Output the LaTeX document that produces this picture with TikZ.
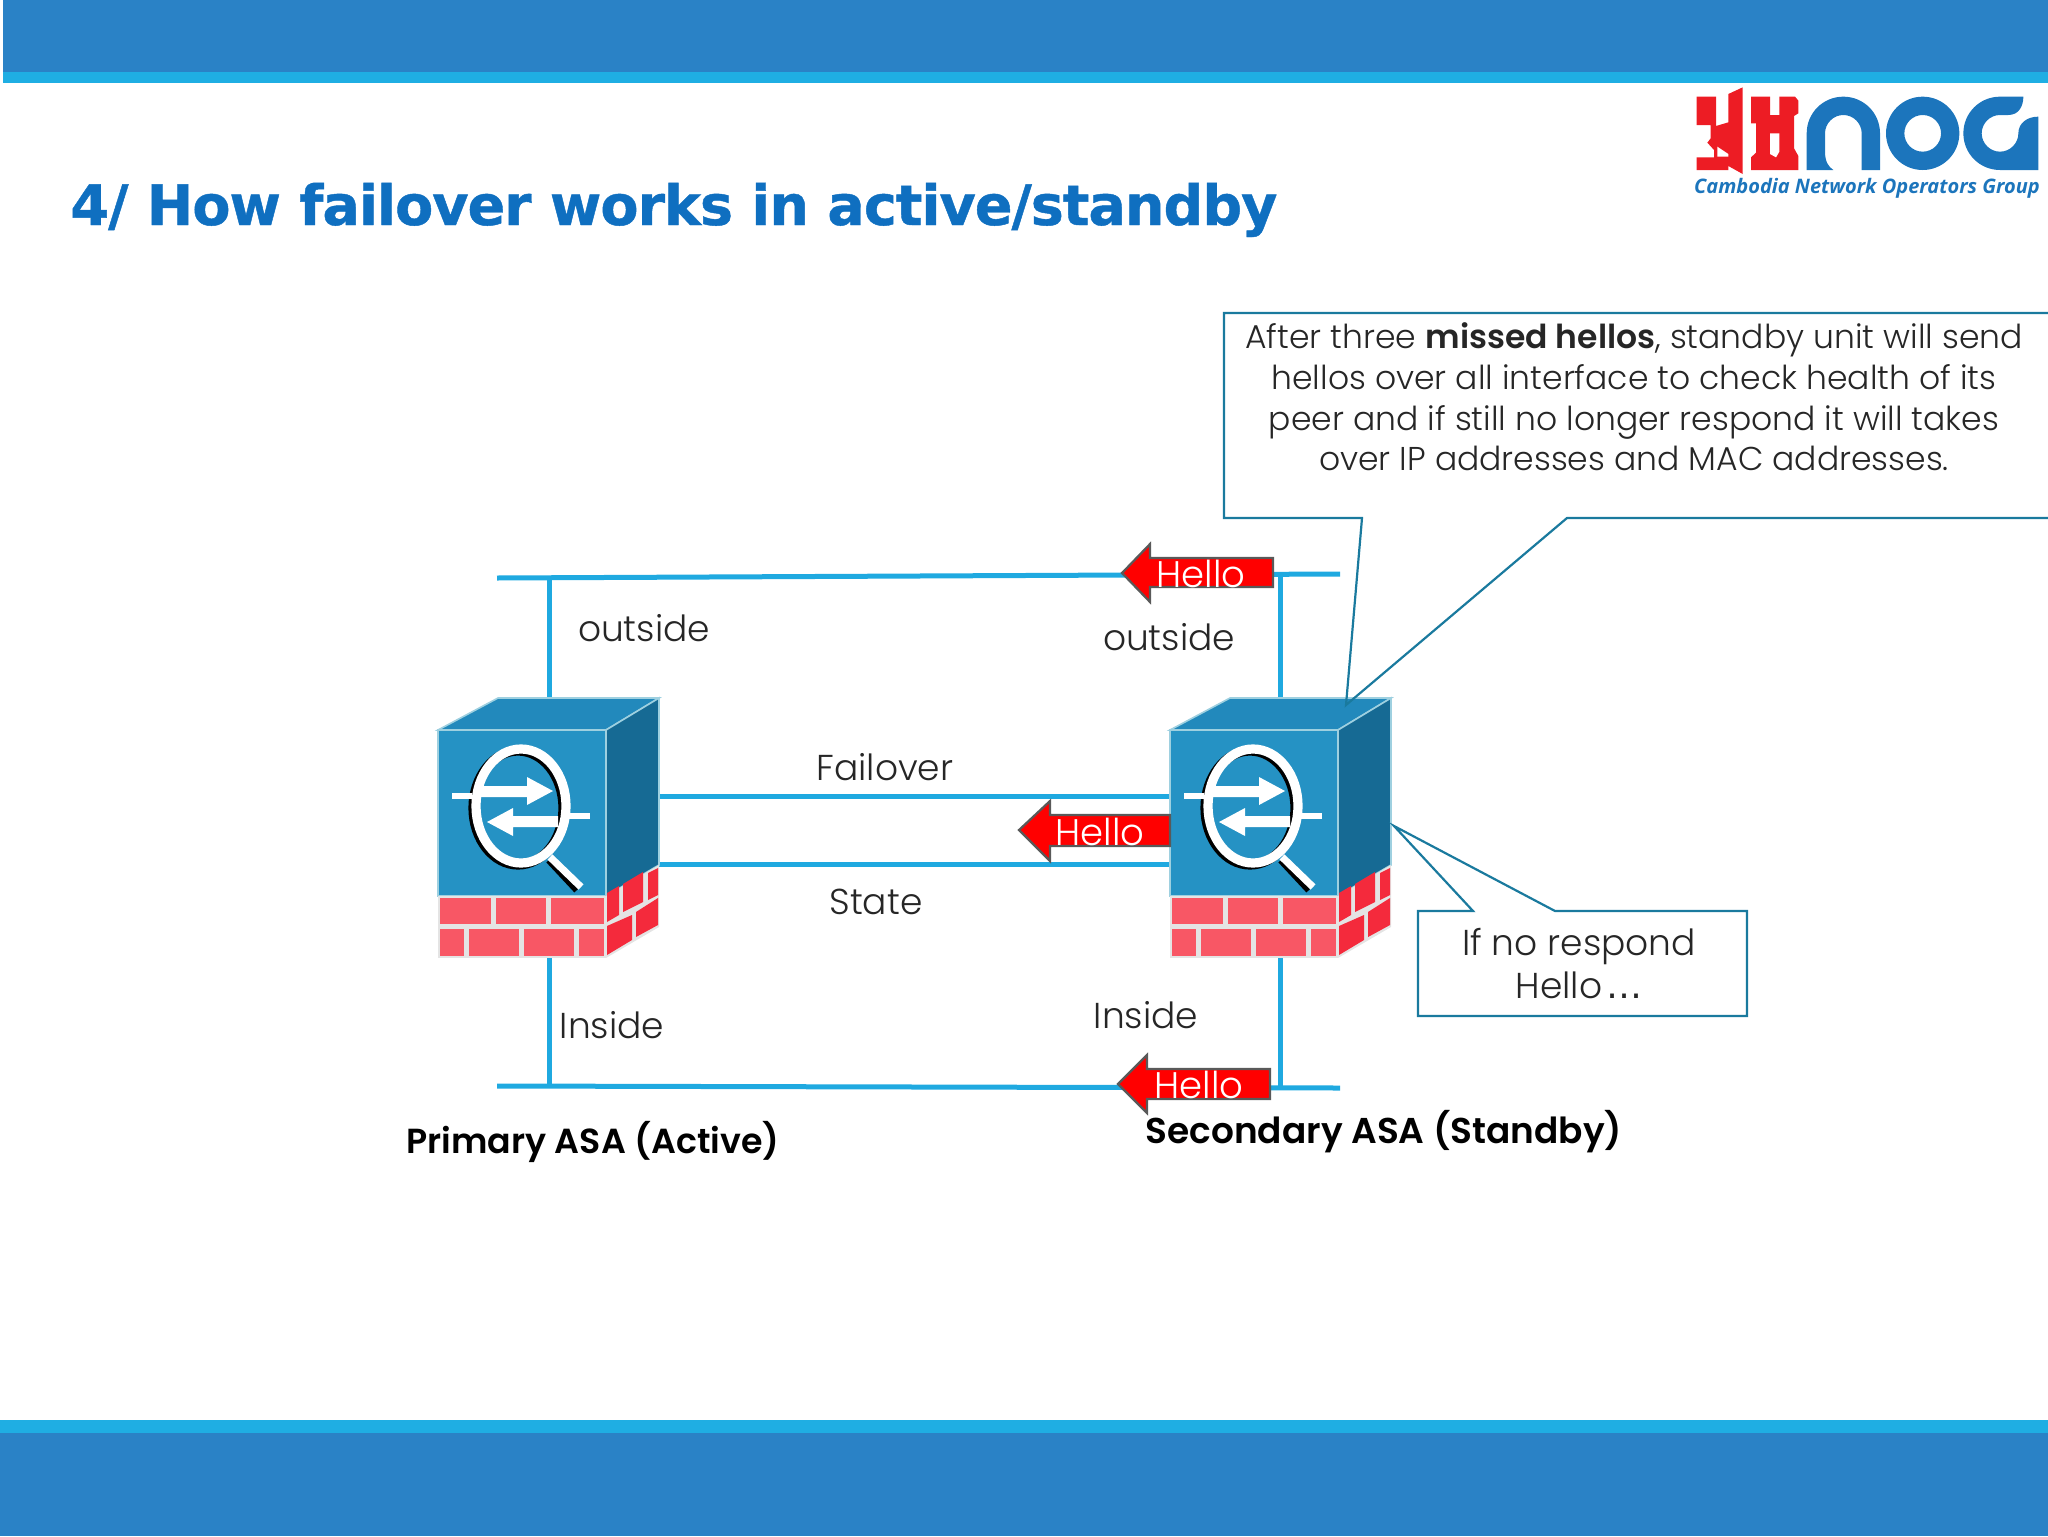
\documentclass[tikz,border=0pt]{standalone}
\usepackage{fontspec}
\setmainfont{Poppins}[UprightFont=* Light,BoldFont=* SemiBold]
\newfontfamily\titlefont{DejaVu Sans}[BoldFont=* Bold,BoldFeatures={FakeBold=0.8,LetterSpace=-1.8}]
\newfontfamily\logofont{Open Sans}
\usetikzlibrary{backgrounds}
\definecolor{bardark}{HTML}{2A82C6}
\definecolor{barlight}{HTML}{1FAEE3}
\definecolor{titleblue}{HTML}{0F6FC0}
\definecolor{netblue}{HTML}{1FA9E0}
\definecolor{calloutline}{HTML}{1A7A9E}
\definecolor{facefront}{HTML}{2592C4}
\definecolor{facetop}{HTML}{2289BC}
\definecolor{faceside}{HTML}{166A94}
\definecolor{faceedge}{HTML}{9ED0E0}
\definecolor{brickfront}{HTML}{F85765}
\definecolor{brickside}{HTML}{F42A3C}
\definecolor{mortar}{HTML}{E4E4E4}
\definecolor{logored}{HTML}{ED1C24}
\definecolor{logoblue}{HTML}{1C75BC}
\tikzset{
 netline/.style={draw=netblue,line width=2.5pt},
 callout/.style={draw=calloutline,line width=1.1pt,line join=miter},
 lbl/.style={inner sep=0pt,font=\fontsize{18}{22}\selectfont,text=black!85},
 boldlbl/.style={inner sep=0pt,font=\fontsize{17.4}{22}\selectfont\bfseries,text=black},
 hellotxt/.style={inner sep=0pt,text=white,font=\fontsize{18.5}{22}\selectfont},
 helloshape/.style={fill=red,draw=black!65,line width=1.1pt,line join=miter},
 asa/.pic={
  \begin{scope}[shift={(-438,-730)}]
  \node[inner sep=0pt,minimum width=110.5pt,minimum height=130pt] (body) at (548.5,828) {};
  \fill[facetop,draw=faceedge,line width=.8pt] (438,730)--(498,698)--(659,698)--(606,730)--cycle;
  \fill[faceside,draw=faceedge,line width=.8pt] (606,730)--(659,698)--(659,865)--(606,896)--cycle;
  \fill[facefront,draw=faceedge,line width=.8pt] (438,730) rectangle (606,896);
  \fill[mortar] (438,896) rectangle (606,958);
  \fill[mortar] (606,896)--(659,865)--(659,927)--(606,958)--cycle;
  \foreach \a/\b in {440/491,496/546,551/604}{\fill[brickfront] (\a,898) rectangle (\b,924);}
  \foreach \a/\b in {440/464,469/519,524/574,579/604}{\fill[brickfront] (\a,929) rectangle (\b,956);}
  \fill[brickside] (607,893)--(619,886)--(619,915)--(607,922)--cycle;
  \fill[brickside] (623,884)--(643,872)--(643,902)--(623,912)--cycle;
  \fill[brickside] (648,873)--(658,868)--(658,895)--(648,900)--cycle;
  \fill[brickside] (607,926)--(632,915)--(632,940)--(607,955)--cycle;
  \fill[brickside] (636,912)--(658,898)--(658,925)--(636,937)--cycle;
  % magnifier
  \draw[black,line width=4.6pt] (518,808) ellipse [x radius=45,y radius=57];
  \draw[black,line width=3.6pt] (549,860)--(577,890);
  \fill[white] (452,793) rectangle (472,799);
  \fill[white] (568,813) rectangle (590,819);
  \draw[white,line width=4.6pt] (521,806) ellipse [x radius=45,y radius=57];
  \draw[white,line width=3.6pt] (550,857)--(581,887);
  \fill[white] (480,786)--(527,786)--(527,777)--(553,791)--(527,805)--(527,797)--(480,797)--cycle;
  \fill[white] (558,816)--(513,816)--(513,808)--(487,822)--(513,836)--(513,827)--(558,827)--cycle;
  \end{scope}
 }
}
\begin{document}
\begin{tikzpicture}[x=0.5pt,y=-0.5pt]
\useasboundingbox (0,0) rectangle (2048,1536);
% bars
\fill[bardark] (3,0) rectangle (2048,72);
\fill[barlight] (3,72) rectangle (2048,83);
\fill[barlight] (0,1420) rectangle (2048,1433);
\fill[bardark] (0,1433) rectangle (2048,1536);
% title
\node[anchor=base west,inner sep=0pt,text=titleblue,font=\titlefont\bfseries\fontsize{27.8}{32}\selectfont] (title) at (70,225) {4/ How failover works in active/standby};
% logo: KH
\begin{scope}[shift={(1690,80)},x=0.16667pt,y=-0.16667pt]
 \fill[logored] (20,50)--(78,50)--(78,138)--(115,127)--(115,42)--(158,22)--(158,282)--(115,258)--(115,270)--(20,270)--(20,232)--(72,232)--(72,210)--(52,188)--(62,175)--(62,135)--(20,135)--cycle;
 \fill[white] (82,200)--(115,222)--(115,230)--(82,230)--cycle;
 \fill[logored] (183,50)--(240,50)--(240,105)--(268,105)--(268,50)--(315,50)--(325,62)--(325,100)--(312,108)--(312,205)--(325,228)--(325,270)--(183,270)--(183,232)--(198,218)--(198,130)--(183,130)--cycle;
 \fill[white] (240,160)--(268,160)--(268,215)--(258,232)--(240,222)--cycle;
\end{scope}
% logo: noG
\begin{scope}[shift={(1800,85)},x=0.16667pt,y=-0.16667pt]
 \fill[logoblue] (20,255)--(20,145) .. controls (20,84) and (69,35) .. (130,35) .. controls (191,35) and (240,84) .. (240,145)--(240,255)--(185,255)--(185,145) .. controls (185,115) and (160,90) .. (130,90) .. controls (100,90) and (75,115) .. (75,145)--(75,200) .. controls (75,230) and (85,245) .. (100,255)--cycle;
 \fill[logoblue,even odd rule] (368,145) circle [radius=110] (368,145) circle [radius=55];
 \fill[logoblue] (670,35)--(600,35) .. controls (539,35) and (490,84) .. (490,145) .. controls (490,206) and (539,255) .. (600,255)--(715,255)--(715,95) .. controls (680,95) and (655,115) .. (655,145) .. controls (655,175) and (630,200) .. (600,200) .. controls (570,200) and (545,175) .. (545,145) .. controls (545,115) and (570,90) .. (600,90)--(625,90) .. controls (655,90) and (670,65) .. (670,35)--cycle;
\end{scope}
\node[anchor=base,inner sep=0pt,text=logoblue,font=\logofont\bfseries\itshape\fontsize{10}{12}\selectfont] (logotext) at (1867,193) {Cambodia Network Operators Group};
% devices
\path (438,730) pic (asaA) {asa};
\path (1170,730) pic (asaB) {asa};
% connectors
\coordinate (topL) at (497,578);
\coordinate (topR) at (1340,574);
\coordinate (botL) at (497,1086);
\coordinate (botR) at (1340,1088);
\coordinate (dropTA) at (549,577);
\coordinate (dropTB) at (1280,574);
\coordinate (dropBA) at (549,1086);
\coordinate (dropBB) at (1280,1087);
\begin{scope}[on background layer]
 \draw[netline] (topL)--(topR);
 \draw[netline] (botL)--(botR);
 \draw[netline] (dropTA)--(dropTA |- asaAbody.north);
 \draw[netline] (dropTB)--(dropTB |- asaBbody.north);
 \draw[netline] (dropBA)--(dropBA |- asaAbody.south);
 \draw[netline] (dropBB)--(dropBB |- asaBbody.south);
 \coordinate (failA) at (asaAbody.east |- 0,796);
 \coordinate (stateA) at (asaAbody.east |- 0,864);
 \draw[netline] (failA)--(asaBbody.west |- failA);
 \draw[netline] (stateA)--(asaBbody.west |- stateA);
\end{scope}
% hello arrows
\draw[helloshape] (1122,573)--(1150,544)--(1150,558)--(1273,558)--(1273,587)--(1150,587)--(1150,602)--cycle;
\node[hellotxt] (helloT) at (1201,574) {Hello};
\draw[helloshape] (1019,830)--(1050,801)--(1050,815)--(1170,815)--(1170,846)--(1050,846)--(1050,861)--cycle;
\node[hellotxt] (helloM) at (1100,832) {Hello};
\draw[helloshape] (1118,1084)--(1147,1055)--(1147,1069)--(1270,1069)--(1270,1099)--(1147,1099)--(1147,1113)--cycle;
\node[hellotxt] (helloB) at (1199,1085) {Hello};
% labels
\node[lbl] (outA) at (644,628) {outside};
\node[lbl] (outB) at (1169,637) {outside};
\node[lbl] (failL) at (885,767) {Failover};
\node[lbl] (stateL) at (876,902) {State};
\node[lbl] (inA) at (612,1025) {Inside};
\node[lbl] (inB) at (1146,1015) {Inside};
\node[boldlbl] (primary) at (593,1142) {Primary ASA (Active)};
\node[boldlbl,font=\fontsize{17.95}{22}\selectfont\bfseries] (secondary) at (1384,1132) {Secondary ASA (Standby)};
% callouts
\draw[callout] (2048,313)--(1224,313)--(1224,518)--(1362,518)--(1346,705)--(1567,518)--(2048,518);
\node[lbl,align=center,font=\fontsize{16.5}{20.3}\selectfont] (noteA) at (1634,397) {After three \textbf{missed hellos}, standby unit will send\\hellos over all interface to check health of its\\peer and if still no longer respond it will takes\\over IP addresses and MAC addresses.};
\draw[callout] (1555,911)--(1747,911)--(1747,1016)--(1418,1016)--(1418,911)--(1473,911)--(1394,826)--cycle;
\node[lbl,align=center,font=\fontsize{18}{21.5}\selectfont] (noteB) at (1579,964) {If no respond\\Hello\kern 2pt{\titlefont …}};
\end{tikzpicture}
\end{document}
